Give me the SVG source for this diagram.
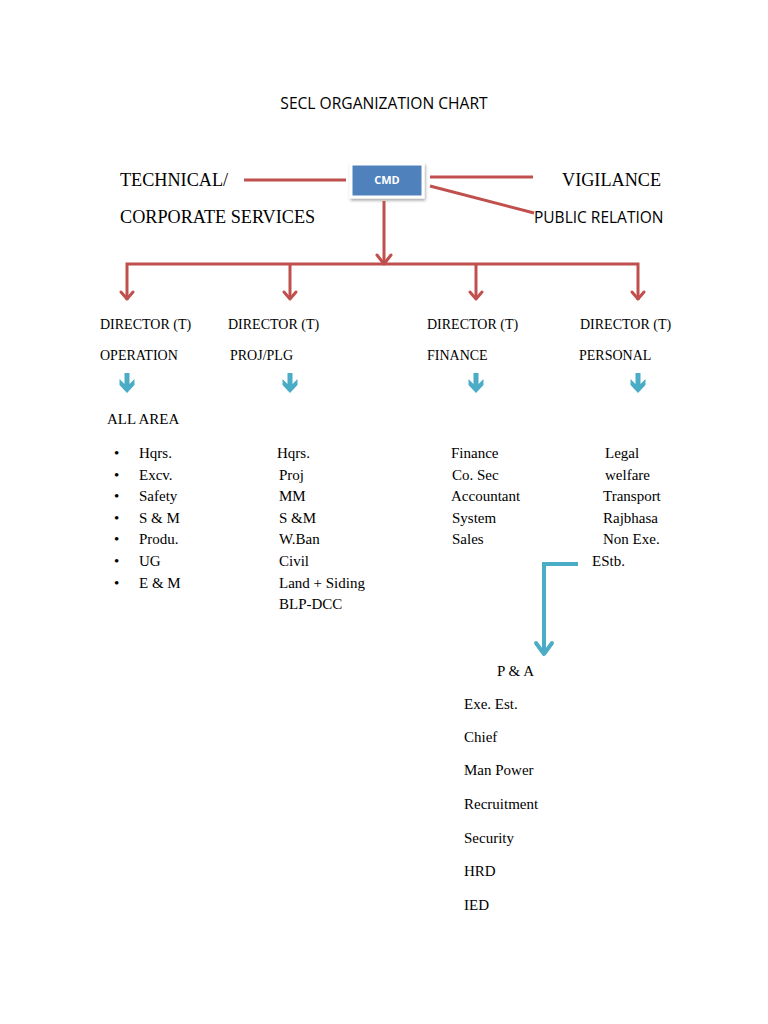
<svg xmlns="http://www.w3.org/2000/svg" width="768" height="1024" viewBox="0 0 768 1024">
<defs>
<filter id="sh" x="-20%" y="-20%" width="150%" height="160%"><feDropShadow dx="1" dy="2" stdDeviation="1.5" flood-color="#000" flood-opacity="0.35"/></filter>
</defs>
<style>
.s{font-family:"Liberation Serif","Times New Roman",serif;fill:#000;}
.sans{font-family:"Open Sans","Liberation Sans",Arial,sans-serif;fill:#000;}
.red{stroke:#C0504D;stroke-width:3;fill:none;}
.redh{fill:none;stroke:#C0504D;stroke-width:3;stroke-linecap:round;stroke-linejoin:round;}
.blue{stroke:#4BACC6;stroke-width:4;fill:none;}
.t13{font-size:14px;}
.t14{font-size:15px;}
</style>
<rect width="768" height="1024" fill="#fff"/>
<text class="sans" x="384" y="109" font-size="15.6" text-anchor="middle">SECL ORGANIZATION CHART</text>

<g id="technical"><text class="s" x="120" y="186" font-size="18.2">TECHNICAL/</text></g>
<g id="corporate"><text class="s" x="120" y="223" font-size="18.2">CORPORATE SERVICES</text></g>
<g id="vigilance"><text class="s" x="562" y="186" font-size="18.2">VIGILANCE</text></g>
<g id="pr"><text class="sans" x="534" y="223" font-size="15.5">PUBLIC RELATION</text></g>

<g id="cmd">
<rect x="351" y="164" width="72" height="33" fill="#4F81BD" stroke="#fff" stroke-width="3" filter="url(#sh)"/>
<text x="387" y="184" font-family="Open Sans, Liberation Sans, sans-serif" font-size="11" font-weight="bold" fill="#fff" text-anchor="middle">CMD</text>
</g>

<g id="connectors">
<line class="red" x1="244" y1="180" x2="346" y2="180"/>
<line class="red" x1="430" y1="177" x2="533" y2="177"/>
<line class="red" x1="430" y1="186" x2="534" y2="213"/>
<line class="red" x1="384" y1="201" x2="384" y2="263"/>
<polyline class="redh" points="377,255 384,264 391,255"/>
<polyline class="red" points="127,300 127,264 638,264 638,300"/>
<line class="red" x1="290" y1="264" x2="290" y2="299"/>
<line class="red" x1="476" y1="264" x2="476" y2="299"/>
<polyline class="redh" points="121,292 127,299 133,292"/>
<polyline class="redh" points="284,292 290,299 296,292"/>
<polyline class="redh" points="470,292 476,299 482,292"/>
<polyline class="redh" points="632,292 638,299 644,292"/>

<g fill="#4BACC6">
<path d="M124.5,373 h5 v11 l5,-5 v6 l-7.5,8 l-7.5,-8 v-6 l5,5 z"/>
<path d="M287.5,373 h5 v11 l5,-5 v6 l-7.5,8 l-7.5,-8 v-6 l5,5 z"/>
<path d="M473.5,373 h5 v11 l5,-5 v6 l-7.5,8 l-7.5,-8 v-6 l5,5 z"/>
<path d="M635.5,373 h5 v11 l5,-5 v6 l-7.5,8 l-7.5,-8 v-6 l5,5 z"/>
</g>
<polyline class="blue" points="578,564 544,564 544,652"/>
<polyline fill="none" stroke="#4BACC6" stroke-width="4" stroke-linecap="round" stroke-linejoin="round" points="536,643 544,654 552,643"/>
</g>

<g id="dir-operation" class="s t13">
<text x="100" y="329">DIRECTOR (T)</text>
<text x="100" y="360">OPERATION</text>
</g>
<g id="dir-proj" class="s t13">
<text x="228" y="329">DIRECTOR (T)</text>
<text x="230" y="360">PROJ/PLG</text>
</g>
<g id="dir-finance" class="s t13">
<text x="427" y="329">DIRECTOR (T)</text>
<text x="427" y="360">FINANCE</text>
</g>
<g id="dir-personal" class="s t13">
<text x="580" y="329">DIRECTOR (T)</text>
<text x="579" y="360">PERSONAL</text>
</g>

<g id="list-operation" class="s t14">
<text x="107" y="424">ALL AREA</text>
<text x="114" y="458">•</text><text x="139" y="458">Hqrs.</text>
<text x="114" y="480">•</text><text x="139" y="480">Excv.</text>
<text x="114" y="501">•</text><text x="139" y="501">Safety</text>
<text x="114" y="523">•</text><text x="139" y="523">S &amp; M</text>
<text x="114" y="544">•</text><text x="139" y="544">Produ.</text>
<text x="114" y="566">•</text><text x="139" y="566">UG</text>
<text x="114" y="588">•</text><text x="139" y="588">E &amp; M</text>
</g>

<g id="list-proj" class="s t14">
<text x="277" y="458">Hqrs.</text>
<text x="279" y="480">Proj</text>
<text x="279" y="501">MM</text>
<text x="279" y="523">S &amp;M</text>
<text x="279" y="544">W.Ban</text>
<text x="279" y="566">Civil</text>
<text x="279" y="588">Land + Siding</text>
<text x="279" y="609">BLP-DCC</text>
</g>

<g id="list-finance" class="s t14">
<text x="451" y="458">Finance</text>
<text x="452" y="480">Co. Sec</text>
<text x="451" y="501">Accountant</text>
<text x="452" y="523">System</text>
<text x="452" y="544">Sales</text>
</g>

<g id="list-personal" class="s t14">
<text x="605" y="458">Legal</text>
<text x="605" y="480">welfare</text>
<text x="603" y="501">Transport</text>
<text x="603" y="523">Rajbhasa</text>
<text x="603" y="544">Non Exe.</text>
<text x="592" y="566">EStb.</text>
</g>

<g id="list-pa" class="s t14">
<text x="497" y="676">P &amp; A</text>
<text x="464" y="709">Exe. Est.</text>
<text x="464" y="742">Chief</text>
<text x="464" y="775">Man Power</text>
<text x="464" y="809">Recruitment</text>
<text x="464" y="843">Security</text>
<text x="464" y="876">HRD</text>
<text x="464" y="910">IED</text>
</g>
</svg>
